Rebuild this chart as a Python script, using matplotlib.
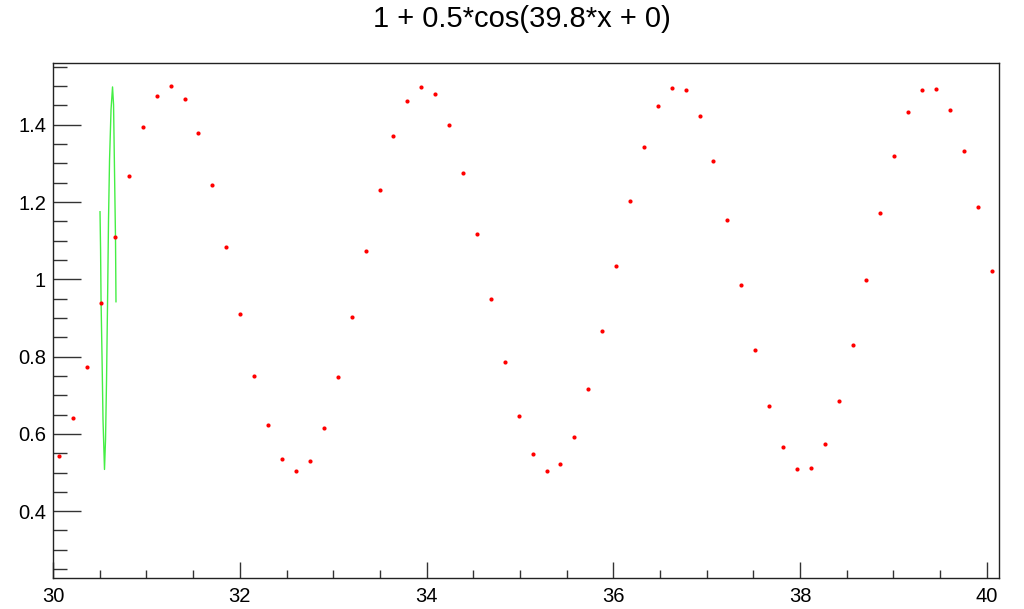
import matplotlib
matplotlib.use("Agg")
import matplotlib.pyplot as plt
from matplotlib.ticker import MultipleLocator, FuncFormatter

# sampled points (red markers)
x_pts = [30.06, 30.21, 30.36, 30.51, 30.66, 30.81, 30.96, 31.11, 31.26, 31.41,
         31.55, 31.70, 31.85, 32.00, 32.15, 32.30, 32.45, 32.60, 32.75, 32.90,
         33.05, 33.20, 33.35, 33.50, 33.64, 33.79, 33.94, 34.09, 34.24, 34.39,
         34.54, 34.69, 34.84, 34.99, 35.14, 35.29, 35.43, 35.58, 35.73, 35.88,
         36.03, 36.18, 36.33, 36.48, 36.63, 36.78, 36.93, 37.07, 37.22, 37.37,
         37.52, 37.67, 37.82, 37.97, 38.12, 38.27, 38.42, 38.57, 38.71, 38.86,
         39.01, 39.16, 39.31, 39.46, 39.61, 39.76, 39.91, 40.06]
y_pts = [0.544, 0.640, 0.774, 0.940, 1.110, 1.268, 1.395, 1.475, 1.501, 1.467,
         1.379, 1.245, 1.084, 0.911, 0.750, 0.622, 0.536, 0.505, 0.531, 0.614,
         0.746, 0.903, 1.074, 1.232, 1.372, 1.462, 1.498, 1.480, 1.400, 1.276,
         1.118, 0.950, 0.785, 0.645, 0.549, 0.505, 0.521, 0.593, 0.715, 0.867,
         1.035, 1.203, 1.343, 1.449, 1.496, 1.491, 1.423, 1.307, 1.154, 0.986,
         0.818, 0.673, 0.565, 0.510, 0.513, 0.575, 0.684, 0.831, 0.999, 1.172,
         1.320, 1.434, 1.491, 1.493, 1.439, 1.333, 1.188, 1.022]

# the function curve (green), drawn only over a short range
x_curve = [30.503, 30.509, 30.514, 30.525, 30.535, 30.551, 30.562, 30.573,
           30.584, 30.594, 30.605, 30.621, 30.637, 30.648, 30.658, 30.669, 30.674]
y_curve = [1.175, 1.077, 0.947, 0.792, 0.637, 0.508, 0.585, 0.741,
           0.947, 1.154, 1.309, 1.439, 1.498, 1.452, 1.284, 1.103, 0.942]

title = "1 + 0.5*cos(39.8*x + 0)"

plt.rcParams['font.family'] = ['Liberation Sans', 'DejaVu Sans']

fig = plt.figure(figsize=(10.24, 6.09), dpi=100)
ax = fig.add_axes([0.0518, 0.0509, 0.9238, 0.8457])

ax.plot(x_curve, y_curve, color='#44ee44', lw=1.0)
ax.plot(x_pts, y_pts, 'o', color='red', ms=3.0, mec='none')

ax.set_xlim(30, 40.13)
ax.set_ylim(0.227, 1.56)

ax.xaxis.set_major_locator(MultipleLocator(2))
ax.xaxis.set_minor_locator(MultipleLocator(0.5))
ax.yaxis.set_major_locator(MultipleLocator(0.2))
ax.yaxis.set_minor_locator(MultipleLocator(0.05))
ax.yaxis.set_major_formatter(FuncFormatter(lambda v, p: f"{v:.1f}".rstrip('0').rstrip('.')))
ax.xaxis.set_major_formatter(FuncFormatter(lambda v, p: f"{v:.0f}"))

ax.tick_params(axis='both', which='both', direction='in', top=False, right=False,
               labelsize=14.5, color='#333333', width=1)
ax.tick_params(axis='x', which='major', length=11.5, pad=6.5)
ax.tick_params(axis='x', which='minor', length=5.8)
ax.tick_params(axis='y', which='major', length=20, pad=5)
ax.tick_params(axis='y', which='minor', length=10)
for s in ax.spines.values():
    s.set_color('#222222')
    s.set_linewidth(1)

fig.text(0.51, 0.968, title, ha='center', va='center', fontsize=21)

fig.savefig("out.png", dpi=100)
